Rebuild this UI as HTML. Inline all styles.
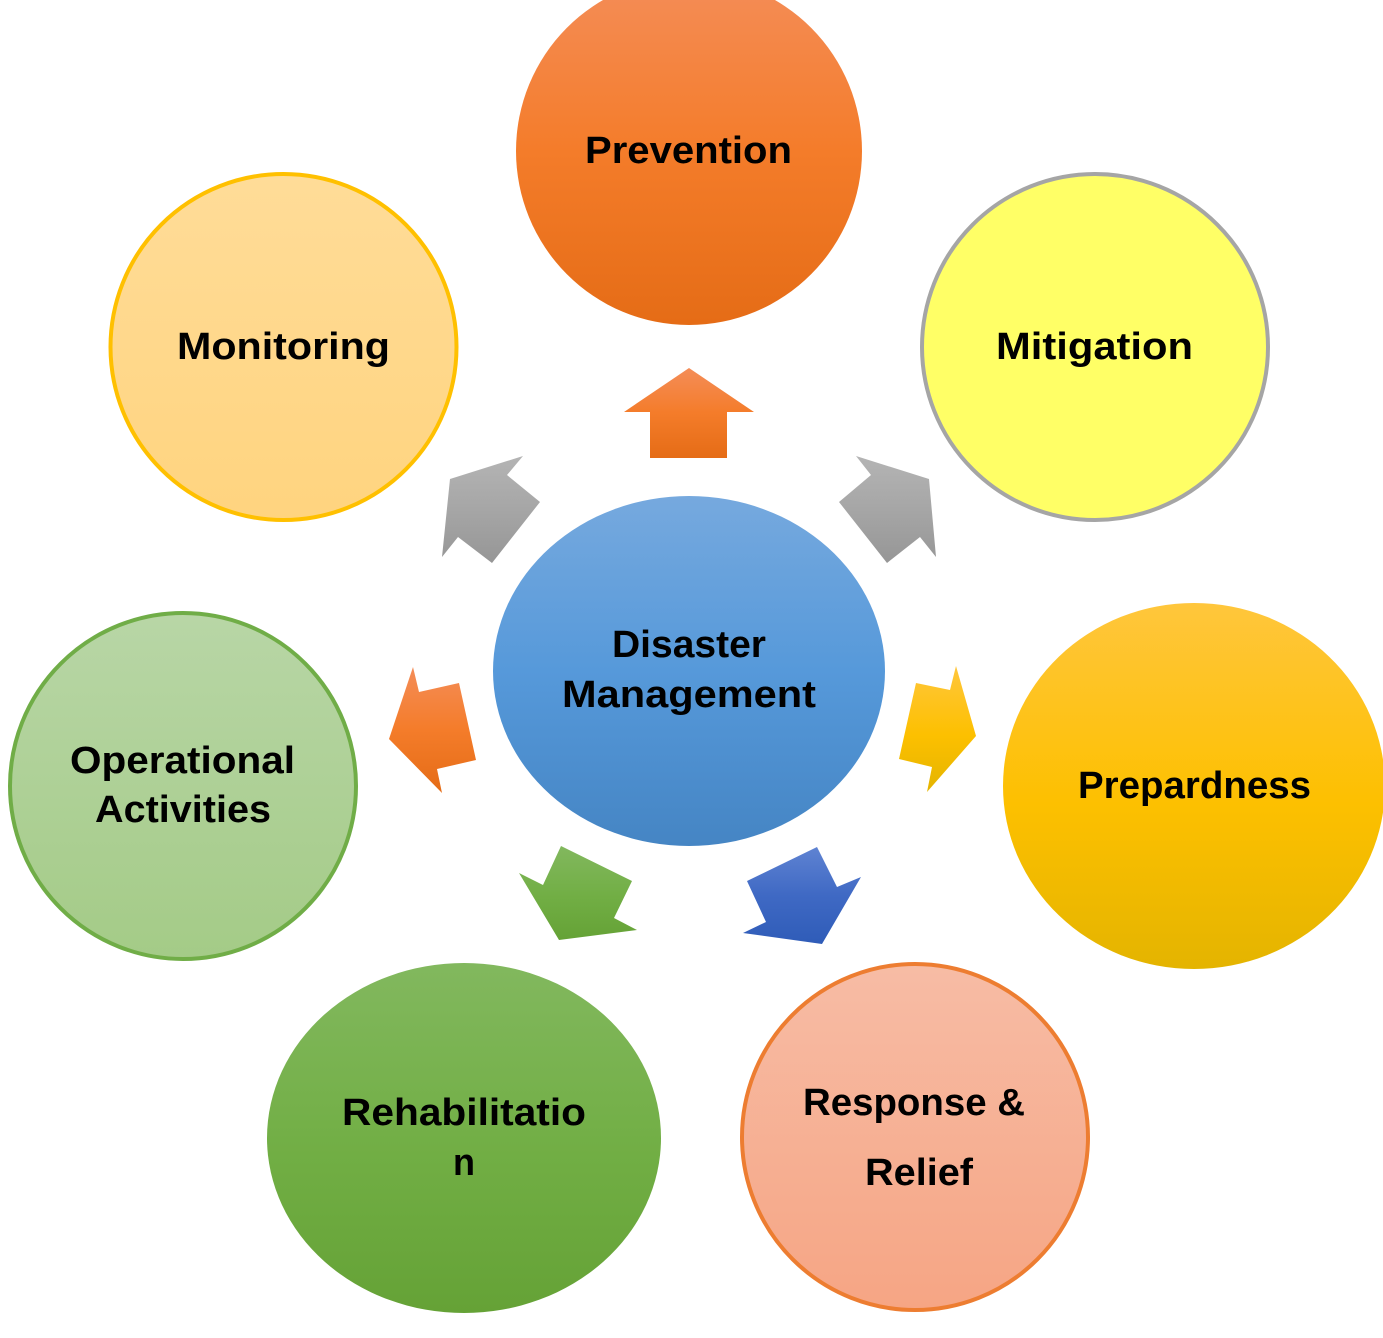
<!DOCTYPE html>
<html>
<head>
<meta charset="utf-8">
<style>
html,body{margin:0;padding:0;background:#fff;width:1383px;height:1338px;overflow:hidden}
svg{display:block}
text{font-family:"Liberation Sans",sans-serif;font-weight:bold;font-size:38px;fill:#000}
</style>
</head>
<body>
<svg width="1383" height="1338" viewBox="0 0 1383 1338" xmlns="http://www.w3.org/2000/svg">
<defs>
<linearGradient id="o" x1="0" y1="0" x2="0" y2="1"><stop offset="0" stop-color="#f48d58"/><stop offset=".5" stop-color="#f47c2a"/><stop offset="1" stop-color="#e56c16"/></linearGradient>
<linearGradient id="y" x1="0" y1="0" x2="0" y2="1"><stop offset="0" stop-color="#ffc63c"/><stop offset=".55" stop-color="#fdc000"/><stop offset="1" stop-color="#e4b400"/></linearGradient>
<linearGradient id="g" x1="0" y1="0" x2="0" y2="1"><stop offset="0" stop-color="#82b85e"/><stop offset=".55" stop-color="#71ae44"/><stop offset="1" stop-color="#65a236"/></linearGradient>
<linearGradient id="b" x1="0" y1="0" x2="0" y2="1"><stop offset="0" stop-color="#76a9de"/><stop offset=".5" stop-color="#5699da"/><stop offset="1" stop-color="#4585c4"/></linearGradient>
<linearGradient id="gr" x1="0" y1="0" x2="0" y2="1"><stop offset="0" stop-color="#b4b4b4"/><stop offset=".5" stop-color="#a6a6a6"/><stop offset="1" stop-color="#969696"/></linearGradient>
<linearGradient id="bl" x1="0" y1="0" x2="0" y2="1"><stop offset="0" stop-color="#5f83d2"/><stop offset=".5" stop-color="#3f69c4"/><stop offset="1" stop-color="#2f5cb8"/></linearGradient>
<linearGradient id="pk" x1="0" y1="0" x2="0" y2="1"><stop offset="0" stop-color="#f7bca5"/><stop offset="1" stop-color="#f6a584"/></linearGradient>
<linearGradient id="lg" x1="0" y1="0" x2="0" y2="1"><stop offset="0" stop-color="#b8d6a6"/><stop offset="1" stop-color="#a4cb87"/></linearGradient>
<linearGradient id="ly" x1="0" y1="0" x2="0" y2="1"><stop offset="0" stop-color="#ffdc98"/><stop offset="1" stop-color="#ffd47f"/></linearGradient>
</defs>

<ellipse cx="689" cy="151" rx="173" ry="174" fill="url(#o)"/>
<circle cx="1095" cy="347" r="173" fill="#ffff66" stroke="#a5a5a5" stroke-width="4"/>
<ellipse cx="1194" cy="786" rx="191" ry="183" fill="url(#y)"/>
<circle cx="915" cy="1137" r="173" fill="url(#pk)" stroke="#ed7d31" stroke-width="4"/>
<ellipse cx="464" cy="1138" rx="197" ry="175" fill="url(#g)"/>
<circle cx="183" cy="786" r="173" fill="url(#lg)" stroke="#70ad47" stroke-width="4"/>
<circle cx="283.500" cy="347" r="173" fill="url(#ly)" stroke="#ffc000" stroke-width="4"/>
<ellipse cx="689" cy="671" rx="196" ry="175" fill="url(#b)"/>

<polygon points="689,368 754,412 727,412 727,458 650,458 650,412 624,412" fill="url(#o)"/>
<polygon points="856,456 929,479 936,557 920,537 887,563 839,502 871,475" fill="url(#gr)"/>
<polygon points="523,456 450,479 442,557 458,537 492,563 540,502 507,475" fill="url(#gr)"/>
<polygon points="956,666 976,736 927,792 932,767 899,759 916,683 950,690" fill="url(#y)"/>
<polygon points="413,667 389,739 442,793 437,769 476,760 459,683 419,692" fill="url(#o)"/>
<polygon points="519,873 543,885 561,846 632,881 614,918 637,930 559,940" fill="url(#g)"/>
<polygon points="861,877 837,887 817,847 747,881 766,922 743,933 822,944" fill="url(#bl)"/>

<text x="585" y="163" textLength="207" lengthAdjust="spacingAndGlyphs">Prevention</text>
<text x="996" y="359" textLength="197" lengthAdjust="spacingAndGlyphs">Mitigation</text>
<text x="177" y="359" textLength="213" lengthAdjust="spacingAndGlyphs">Monitoring</text>
<text x="612" y="657" textLength="154" lengthAdjust="spacingAndGlyphs">Disaster</text>
<text x="562" y="707" textLength="254" lengthAdjust="spacingAndGlyphs">Management</text>
<text x="1078" y="798" textLength="233" lengthAdjust="spacingAndGlyphs">Prepardness</text>
<text x="70" y="773" textLength="225" lengthAdjust="spacingAndGlyphs">Operational</text>
<text x="95" y="822" textLength="176" lengthAdjust="spacingAndGlyphs">Activities</text>
<text x="342" y="1125" textLength="244" lengthAdjust="spacingAndGlyphs">Rehabilitatio</text>
<text x="453" y="1175" textLength="22" lengthAdjust="spacingAndGlyphs">n</text>
<text x="803" y="1115" textLength="222" lengthAdjust="spacingAndGlyphs">Response &amp;</text>
<text x="865" y="1185" textLength="108" lengthAdjust="spacingAndGlyphs">Relief</text>
</svg>
</body>
</html>
